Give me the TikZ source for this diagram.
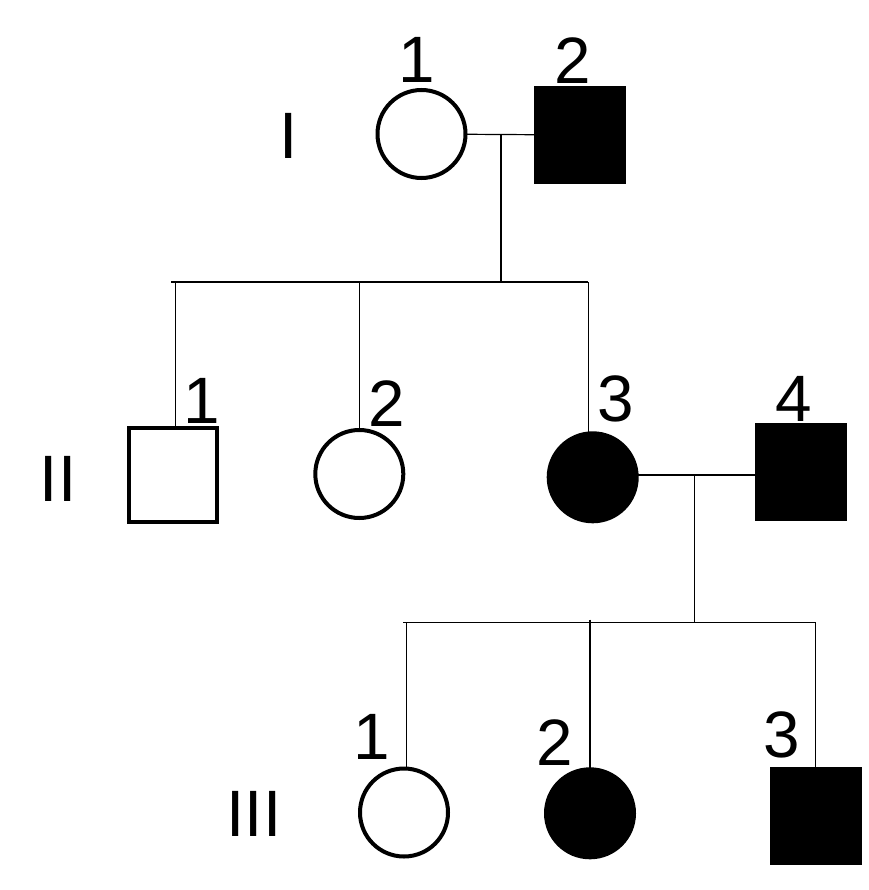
\documentclass[tikz,border=0pt]{standalone}
\usepackage{fontspec}
\setmainfont{Liberation Sans}
\usetikzlibrary{positioning}

\begin{document}
\begin{tikzpicture}[x=1pt,y=-1pt]
	\tikzset{every node/.style={inner sep=0pt,outer sep=0pt}}
	\tikzset{female/.style={circle,draw,line width=4pt,minimum size=88pt}}
	\tikzset{male/.style={rectangle,draw,line width=4pt,minimum width=88pt,minimum height=94pt}}
	\tikzset{aff/.style={fill=black}}
	\tikzset{num/.style={anchor=base,font=\fontsize{65.6}{70}\selectfont}}
	\tikzset{line/.style={line width=1.2pt}}
	\useasboundingbox (0,0) rectangle (868,890);
	% generation I
	\node[num] (genI) at (288.5,159) {I};
	\node[female] (I1) at (421.5,134) {};
	\node[male,aff] (I2) at (579.5,135) {};
	\node[num] (nI1) at (417,83) {1};
	\node[num] (nI2) at (573,84) {2};
	% generation II
	\node[num] (genII) at (58,501) {II};
	\node[male] (II1) at (173.3,474.5) {};
	\node[female] (II2) at (359.3,474) {};
	\node[female,aff] (II3) at (592.7,477.3) {};
	\node[male,aff] (II4) at (801.3,471.7) {};
	\node[num] (nII1) at (202,423) {1};
	\node[num] (nII2) at (387,426.5) {2};
	\node[num] (nII3) at (616,421) {3};
	\node[num] (nII4) at (794,421.5) {4};
	% generation III
	\node[num] (genIII) at (254,836) {III};
	\node[female] (III1) at (404,812.5) {};
	\node[female,aff] (III2) at (590,813.3) {};
	\node[male,aff] (III3) at (815.5,815.8) {};
	\node[num] (nIII1) at (372,759) {1};
	\node[num] (nIII2) at (555,765) {2};
	\node[num] (nIII3) at (782,757.5) {3};
	% lines I -> II
	\coordinate (m1) at (501,135);
	\coordinate (s1) at (501,282);
	\coordinate (s1l) at (171,282);
	\coordinate (d21) at (175.7,282);
	\coordinate (d22) at (359.3,281);
	\coordinate (d23) at (588.3,282);
	\draw[line] (I1) -- (I2);
	\draw[line] (m1) -- (s1);
	\draw[line] (s1l) -- (d23);
	\draw[line] (d21) -- (d21 |- II1.north);
	\draw[line] (d22) -- (d22 |- II2.north);
	\draw[line] (d23) -- (d23 |- II3.north);
	% lines II -> III
	\coordinate (m2) at (694.5,475);
	\coordinate (s2) at (694.5,622.5);
	\coordinate (s2l) at (403,622.5);
	\coordinate (d31) at (406.7,622.5);
	\coordinate (d32) at (590,619.5);
	\coordinate (d33) at (815.7,622.5);
	\draw[line] (II3.east |- m2) -- (II4.west |- m2);
	\draw[line] (m2) -- (s2);
	\draw[line] (s2l) -- (d33);
	\draw[line] (d31) -- (d31 |- III1.north);
	\draw[line] (d32) -- (d32 |- III2.north);
	\draw[line] (d33) -- (d33 |- III3.north);
\end{tikzpicture}
\end{document}
